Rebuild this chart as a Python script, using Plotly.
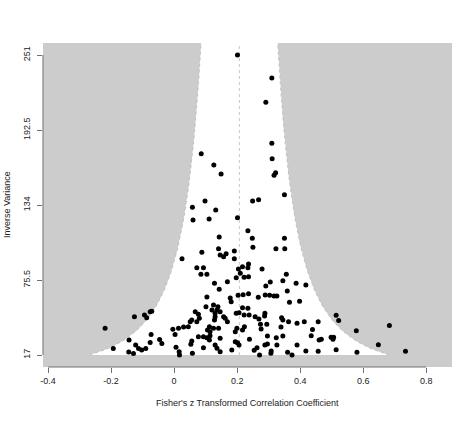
import numpy as np
import plotly.graph_objects as go

# Fisher's z values and inverse variances
zval = [0.201, 0.310, 0.291, 0.310, 0.086, 0.311, 0.126, 0.149, 0.322, 0.317,
        0.350, 0.098, 0.249, 0.268, 0.058, 0.132, 0.060, 0.111, 0.201, 0.234,
        0.143, 0.025, 0.088, 0.141, 0.146, 0.157, 0.165, 0.191, 0.191, 0.072,
        0.093, 0.085, 0.104, 0.204, 0.197, 0.169, 0.128, 0.143, 0.104, 0.178,
        0.181, 0.248, 0.250, 0.350, 0.323, 0.351, 0.236, 0.234, 0.217, 0.210,
        0.222, 0.236, 0.279, 0.356, 0.345, 0.305, 0.291, 0.387, 0.418, 0.359,
        0.219, 0.236, 0.267, 0.289, 0.303, 0.317, 0.326, 0.203, 0.366, 0.398,
        0.217, 0.234, 0.206, 0.222, 0.238, 0.257, 0.269, 0.288, 0.287, 0.341,
        0.345, 0.363, 0.390, 0.413, 0.274, 0.294, 0.276, 0.199, 0.223, 0.217,
        0.339, 0.296, 0.324, 0.345, 0.239, 0.201, 0.206, 0.263, 0.254, 0.288,
        0.296, 0.326, 0.390, 0.308, 0.307, 0.271, 0.360, 0.374, 0.418, 0.514,
        0.522, 0.578, 0.683, 0.648, 0.734, 0.580, 0.514, 0.457, 0.457, 0.439,
        0.435, 0.460, 0.467, 0.498, 0.504, 0.506, -0.219, -0.126, -0.094, -0.087,
        -0.076, -0.071, -0.143, -0.193, -0.144, -0.129, -0.122, -0.113, -0.103, -0.090,
        -0.073, -0.076, -0.046, -0.039, -0.004, 0.014, 0.030, 0.003, 0.006, 0.016,
        0.017, 0.045, 0.051, 0.056, 0.067, 0.077, 0.080, 0.072, 0.101, 0.125,
        0.139, 0.136, 0.120, 0.130, 0.146, 0.130, 0.128, 0.157, 0.162, 0.169,
        0.197, 0.112, 0.106, 0.114, 0.125, 0.141, 0.194, 0.077, 0.093, 0.104,
        0.114, 0.112, 0.056, 0.053, 0.146, 0.130, 0.136, 0.194, 0.058, 0.093,
        0.146, 0.183]
vinv = [251.0, 233.1, 214.1, 182.1, 174.0, 170.1, 165.2, 158.2, 159.2, 157.2,
        142.0, 137.1, 137.1, 138.1, 132.2, 130.1, 122.3, 123.1, 124.1, 114.0,
        109.0, 92.1, 97.1, 99.9, 95.0, 93.7, 96.0, 98.1, 92.1, 85.1,
        85.1, 79.9, 79.9, 84.1, 77.3, 74.2, 72.9, 68.2, 62.2, 61.5,
        58.6, 108.0, 101.0, 108.0, 99.9, 99.9, 88.0, 85.1, 85.9, 80.7,
        77.6, 78.1, 84.1, 79.9, 75.0, 73.9, 70.8, 72.9, 71.6, 66.9,
        64.0, 64.8, 62.0, 63.8, 63.6, 63.0, 63.0, 63.6, 58.1, 58.9,
        53.9, 53.4, 50.0, 48.2, 48.2, 46.9, 45.1, 49.5, 47.4, 46.1,
        44.3, 43.0, 41.7, 43.0, 40.9, 40.9, 37.3, 37.8, 39.1, 36.5,
        38.8, 31.8, 30.5, 31.8, 29.2, 26.6, 24.8, 22.7, 20.7, 24.8,
        25.6, 24.8, 24.8, 20.1, 18.3, 17.0, 19.1, 17.0, 20.1, 48.0,
        43.9, 36.0, 40.0, 25.0, 20.0, 19.2, 21.1, 20.0, 43.0, 36.9,
        32.1, 28.7, 29.2, 30.8, 29.2, 30.8, 37.8, 46.9, 48.2, 46.1,
        50.8, 51.1, 28.7, 22.1, 19.3, 18.2, 24.8, 22.1, 20.9, 22.1,
        33.0, 26.8, 29.1, 26.0, 37.0, 37.8, 38.8, 33.0, 23.1, 19.6,
        17.0, 39.1, 43.0, 44.3, 50.8, 48.7, 45.6, 43.0, 54.7, 56.0,
        54.7, 52.1, 52.1, 49.5, 50.8, 46.9, 44.3, 46.9, 45.6, 43.0,
        49.5, 39.1, 36.5, 35.2, 37.8, 37.8, 35.2, 31.3, 31.3, 30.5,
        32.1, 28.7, 27.9, 25.3, 30.0, 24.8, 22.2, 27.4, 18.3, 22.7,
        19.6, 20.9]

est = 0.207
xticks = [-0.4, -0.2, 0, 0.2, 0.4, 0.6, 0.8]
xtick_labels = ['-0.4', '-0.2', '0', '0.2', '0.4', '0.6', '0.8']
yticks = [17, 75.5, 134, 192.5, 251]
ytick_labels = ["17", "75.5", "134", "192.5", "251"]

xlim = [-0.416, 0.8816]
ylim = [7.64, 260.36]

# pseudo confidence region
yy = np.linspace(17, ylim[1], 120)
half = 1.96 / np.sqrt(yy)
left = est - half
right = est + half

dot_line = dict(color='#b8b8b8', width=0.8, dash='dot')

fig = go.Figure()
fig.add_trace(go.Scatter(
    x=np.concatenate([left, right[::-1]]), y=np.concatenate([yy, yy[::-1]]),
    fill='toself', fillcolor='white', mode='lines', line=dict(width=0),
    hoverinfo='skip', showlegend=False))
for edge in (left, right):
    fig.add_trace(go.Scatter(x=edge, y=yy, mode='lines', showlegend=False, line=dot_line))
fig.add_trace(go.Scatter(x=[est, est], y=[17, ylim[1]], mode='lines', showlegend=False,
                         line=dot_line))

fig.add_trace(go.Scatter(x=zval, y=vinv, mode='markers', showlegend=False,
                         marker=dict(color='black', size=5)))

axis_col = '#707070'
fig.update_layout(
    width=474, height=421,
    margin=dict(l=43, r=22, t=43, b=54),
    paper_bgcolor='white', plot_bgcolor='#cccccc',
    font=dict(family='Liberation Sans, Arial, sans-serif', size=9, color='#222'),
    xaxis=dict(range=xlim, tickvals=xticks, ticktext=xtick_labels,
               showgrid=False, zeroline=False, showline=False,
               ticks='outside', ticklen=5, tickcolor=axis_col),
    yaxis=dict(range=ylim, tickvals=yticks, ticktext=ytick_labels, tickangle=-90,
               showgrid=False, zeroline=False, showline=False,
               ticks='outside', ticklen=5, tickcolor=axis_col, ticklabelstandoff=3),
    shapes=[
        dict(type='line', xref='x', yref='paper', x0=-0.4, x1=0.8, y0=0, y1=0,
             line=dict(color=axis_col, width=1)),
        dict(type='line', xref='paper', yref='y', x0=0, x1=0, y0=17, y1=251,
             line=dict(color=axis_col, width=1)),
    ],
    annotations=[
        dict(text="Fisher's z Transformed Correlation Coefficient", xref='paper', yref='paper',
             x=0.5, y=0, yshift=-36, showarrow=False, xanchor='center', yanchor='middle'),
        dict(text='Inverse Variance', xref='paper', yref='paper', x=0, y=0.5, xshift=-36,
             textangle=-90, showarrow=False, xanchor='center', yanchor='middle'),
    ],
)

# drop the browser's default body margin so the figure sits at the page corner
fig.write_html("out.html", config={'displayModeBar': False},
               post_script="document.body.style.margin='0px';")
